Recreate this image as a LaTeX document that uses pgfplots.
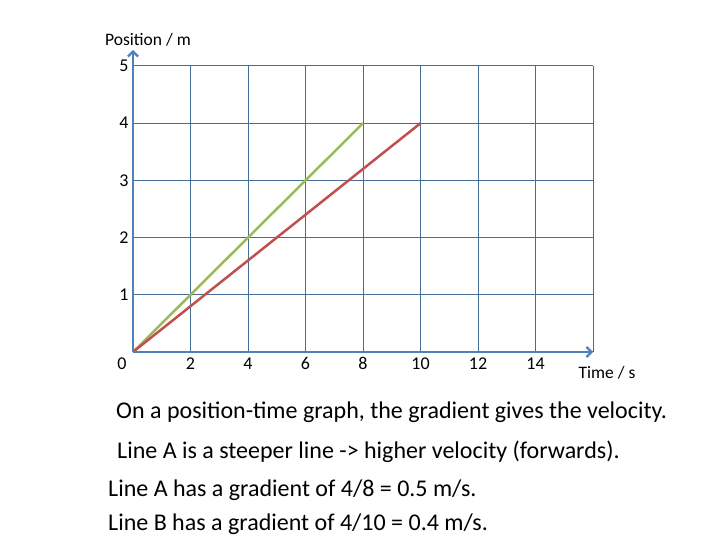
\documentclass[border=0pt]{standalone}
\usepackage{pgfplots}
\pgfplotsset{compat=1.18}
\usepackage{fontspec}
\setmainfont{Carlito}
\usetikzlibrary{arrows.meta}
\definecolor{gridblue}{RGB}{68,110,152}
\definecolor{axisblue}{RGB}{79,129,189}
\definecolor{lgreen}{RGB}{155,187,89}
\definecolor{lred}{RGB}{192,80,77}
\begin{document}
\begin{tikzpicture}[x=1pt,y=1pt]
\path[use as bounding box] (0,0) rectangle (728,546);
\begin{axis}[
  at={(133pt,194pt)}, anchor=south west,
  scale only axis, width=460pt, height=286pt,
  xmin=0, xmax=16, ymin=0, ymax=5,
  xtick={0,2,...,16}, xticklabels={,2,4,6,8,10,12,14,},
  ytick={0,1,...,5}, yticklabels={,1,2,3,4,5},
  axis line style={draw=none},
  major tick style={draw=none},
  grid=major,
  grid style={gridblue, line width=1pt},
  /pgf/number format/assume math mode=true,
  every tick label/.append style={font=\fontsize{18}{21}\selectfont},
  x tick label style={yshift=-2pt},
  y tick label style={xshift=-1pt},
  clip=false,
]
\draw[gridblue, line width=1pt] (axis cs:16,0) -- (axis cs:16,5);
\draw[gridblue, line width=1pt] (axis cs:0,5) -- (axis cs:16,5);
\addplot[lgreen, line width=2.5pt, no marks] coordinates {(0,0) (8,4)};
\addplot[lred, line width=2.5pt, no marks] coordinates {(0,0) (10,4)};
\draw[axisblue, line width=2.2pt, -{Straight Barb[length=5pt,width=10pt]}] (axis cs:0,0) -- (axis cs:0,5.28);
\draw[axisblue, line width=2.2pt, -{Straight Barb[length=5pt,width=10pt]}] (axis cs:0,0) -- (axis cs:16,0);
\end{axis}
\node[font=\fontsize{18}{21}\selectfont] at (122,182) {0};
\node[font=\fontsize{17.5}{20}\selectfont] at (148,506) {Position / m};
\node[font=\fontsize{17.5}{20}\selectfont] at (607,173) {Time / s};
\begin{scope}[every node/.style={anchor=west, inner sep=0pt, font=\fontsize{24}{28}\selectfont}]
\node at (116,134) {On a position-time graph, the gradient gives the velocity.};
\node at (117,94) {Line A is a steeper line -> higher velocity (forwards).};
\node at (108,56) {Line A has a gradient of 4/8 = 0.5 m/s.};
\node at (108,22) {Line B has a gradient of 4/10 = 0.4 m/s.};
\end{scope}
\end{tikzpicture}
\end{document}
